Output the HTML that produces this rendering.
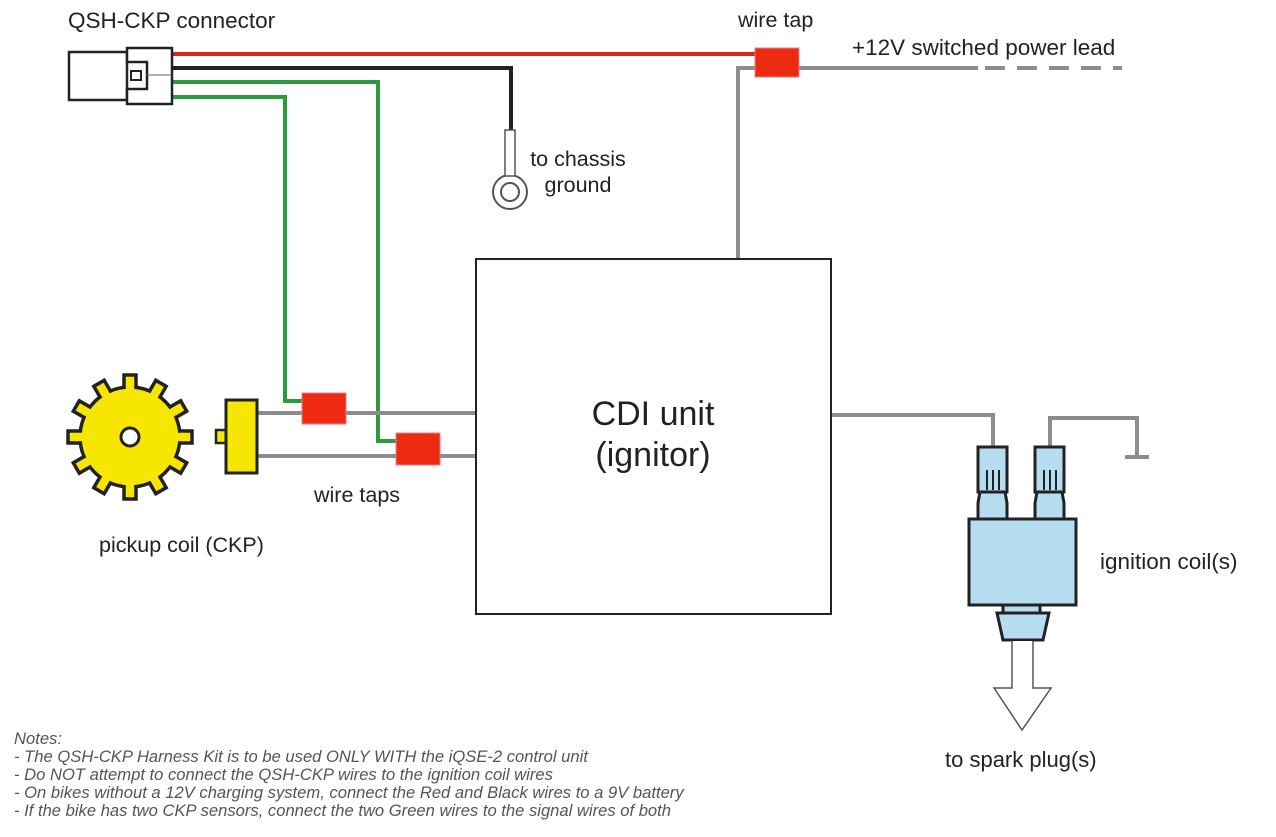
<!DOCTYPE html>
<html><head><meta charset="utf-8"><style>
html,body{margin:0;padding:0;background:#fff;}
svg{display:block;}
text{font-family:"Liberation Sans",sans-serif;fill:#222;}
.n{font-style:italic;font-size:16.6px;fill:#555;}
</style></head><body>
<svg width="1276" height="837" viewBox="0 0 1276 837">
<!-- wires -->
<path d="M172 54 H755" stroke="#d8261e" stroke-width="4" fill="none"/>
<path d="M172 68 H511 V132" stroke="#222" stroke-width="4" fill="none"/>
<path d="M172 82 H378 V441 H396" stroke="#2e9a3e" stroke-width="4" fill="none"/>
<path d="M172 97 H285 V401 H302" stroke="#2e9a3e" stroke-width="4" fill="none"/>
<circle cx="510" cy="192" r="17" fill="#fff" stroke="#555" stroke-width="2"/>
<circle cx="510" cy="192" r="9" fill="#fff" stroke="#555" stroke-width="2"/>
<rect x="505" y="130" width="10" height="46" fill="#fff" stroke="#555" stroke-width="1.5"/>
<!-- connector -->
<rect x="69" y="52" width="58" height="48" fill="#fff" stroke="#222" stroke-width="2.5"/>
<path d="M127 48 H172 V104 H127 V89 H147 V62 H127 Z" fill="#fff" stroke="#222" stroke-width="2.5"/>
<rect x="131" y="71" width="10" height="9" fill="#fff" stroke="#222" stroke-width="2"/>
<path d="M147 75 H172" stroke="#666" stroke-width="1"/>
<!-- gray wires -->
<g stroke="#8c8c8c" stroke-width="4" fill="none">
<path d="M258 413 H475"/><path d="M258 456 H475"/>
<path d="M738 258 V68 H755"/><path d="M799 68 H978"/>
<path d="M985 68 H1122" stroke-dasharray="20 12"/>
<path d="M831 415 H993 V447"/>
<path d="M1050 447 V418 H1137 V458"/><path d="M1125 457 H1149"/>
</g>
<!-- taps -->
<rect x="302" y="393" width="44" height="31" fill="#ef2a12" stroke="#e08080"/>
<rect x="396" y="433" width="44" height="32" fill="#ef2a12" stroke="#e08080"/>
<rect x="755" y="48" width="44" height="29" fill="#ef2a12" stroke="#e08080"/>
<!-- gear -->
<g transform="translate(130 437)">
<g fill="#f7e600" stroke="#222" stroke-width="3.5">
<rect x="-6" y="-62" width="12" height="16" transform="rotate(0)"/>
<rect x="-6" y="-62" width="12" height="16" transform="rotate(30)"/>
<rect x="-6" y="-62" width="12" height="16" transform="rotate(60)"/>
<rect x="-6" y="-62" width="12" height="16" transform="rotate(90)"/>
<rect x="-6" y="-62" width="12" height="16" transform="rotate(120)"/>
<rect x="-6" y="-62" width="12" height="16" transform="rotate(150)"/>
<rect x="-6" y="-62" width="12" height="16" transform="rotate(180)"/>
<rect x="-6" y="-62" width="12" height="16" transform="rotate(210)"/>
<rect x="-6" y="-62" width="12" height="16" transform="rotate(240)"/>
<rect x="-6" y="-62" width="12" height="16" transform="rotate(270)"/>
<rect x="-6" y="-62" width="12" height="16" transform="rotate(300)"/>
<rect x="-6" y="-62" width="12" height="16" transform="rotate(330)"/>
<circle r="50"/>
</g>
<g fill="#f7e600">
<rect x="-4.2" y="-53" width="8.4" height="10" transform="rotate(0)"/>
<rect x="-4.2" y="-53" width="8.4" height="10" transform="rotate(30)"/>
<rect x="-4.2" y="-53" width="8.4" height="10" transform="rotate(60)"/>
<rect x="-4.2" y="-53" width="8.4" height="10" transform="rotate(90)"/>
<rect x="-4.2" y="-53" width="8.4" height="10" transform="rotate(120)"/>
<rect x="-4.2" y="-53" width="8.4" height="10" transform="rotate(150)"/>
<rect x="-4.2" y="-53" width="8.4" height="10" transform="rotate(180)"/>
<rect x="-4.2" y="-53" width="8.4" height="10" transform="rotate(210)"/>
<rect x="-4.2" y="-53" width="8.4" height="10" transform="rotate(240)"/>
<rect x="-4.2" y="-53" width="8.4" height="10" transform="rotate(270)"/>
<rect x="-4.2" y="-53" width="8.4" height="10" transform="rotate(300)"/>
<rect x="-4.2" y="-53" width="8.4" height="10" transform="rotate(330)"/>
</g>
<circle r="9" fill="#fff" stroke="#222" stroke-width="3"/>
</g>
<!-- pickup -->
<rect x="216" y="430" width="10" height="13" fill="#f7e600" stroke="#222" stroke-width="2.5"/>
<rect x="226" y="400" width="31" height="73" fill="#f7e600" stroke="#222" stroke-width="3"/>
<!-- CDI -->
<rect x="476" y="259" width="355" height="355" fill="#fff" stroke="#222" stroke-width="2"/>
<text x="653" y="425" font-size="34" text-anchor="middle">CDI unit</text>
<text x="653" y="466" font-size="34" text-anchor="middle">(ignitor)</text>
<!-- coil -->
<g fill="#b6dcf0" stroke="#222" stroke-width="3">
<path d="M980 492 L978 503 V520 H1007 V503 L1005 492 Z"/>
<path d="M1037 492 L1035 503 V520 H1064 V503 L1062 492 Z"/>
<rect x="978" y="447" width="29" height="45"/>
<rect x="1035" y="447" width="29" height="45"/>
<rect x="969" y="519" width="107" height="86"/>
<rect x="1003" y="605" width="37" height="8"/>
<path d="M997 613 H1049 L1043 640 H1003 Z"/>
</g>
<g stroke="#222" stroke-width="2">
<path d="M987 470 V490 M993 470 V490 M999 470 V490 M1044 470 V490 M1050 470 V490 M1056 470 V490"/>
</g>
<path d="M1012 641 V688 H994 L1022 730 L1051 688 H1033 V641" fill="#fff" stroke="#555" stroke-width="1.5"/>
<!-- labels -->
<text x="68" y="28" font-size="22.5">QSH-CKP connector</text>
<text x="738" y="27" font-size="21.5">wire tap</text>
<text x="852" y="55" font-size="22.5">+12V switched power lead</text>
<text x="578" y="166" font-size="21.5" text-anchor="middle">to chassis</text>
<text x="578" y="192" font-size="21.5" text-anchor="middle">ground</text>
<text x="99" y="552" font-size="21.5">pickup coil (CKP)</text>
<text x="314" y="502" font-size="21.5">wire taps</text>
<text x="1100" y="569" font-size="22.5">ignition coil(s)</text>
<text x="945" y="767" font-size="22">to spark plug(s)</text>
<text class="n" x="14" y="744">Notes:</text>
<text class="n" x="14" y="762">- The QSH-CKP Harness Kit is to be used ONLY WITH the iQSE-2 control unit</text>
<text class="n" x="14" y="780">- Do NOT attempt to connect the QSH-CKP wires to the ignition coil wires</text>
<text class="n" x="14" y="798">- On bikes without a 12V charging system, connect the Red and Black wires to a 9V battery</text>
<text class="n" x="14" y="816">- If the bike has two CKP sensors, connect the two Green wires to the signal wires of both</text>
</svg>
</body></html>
